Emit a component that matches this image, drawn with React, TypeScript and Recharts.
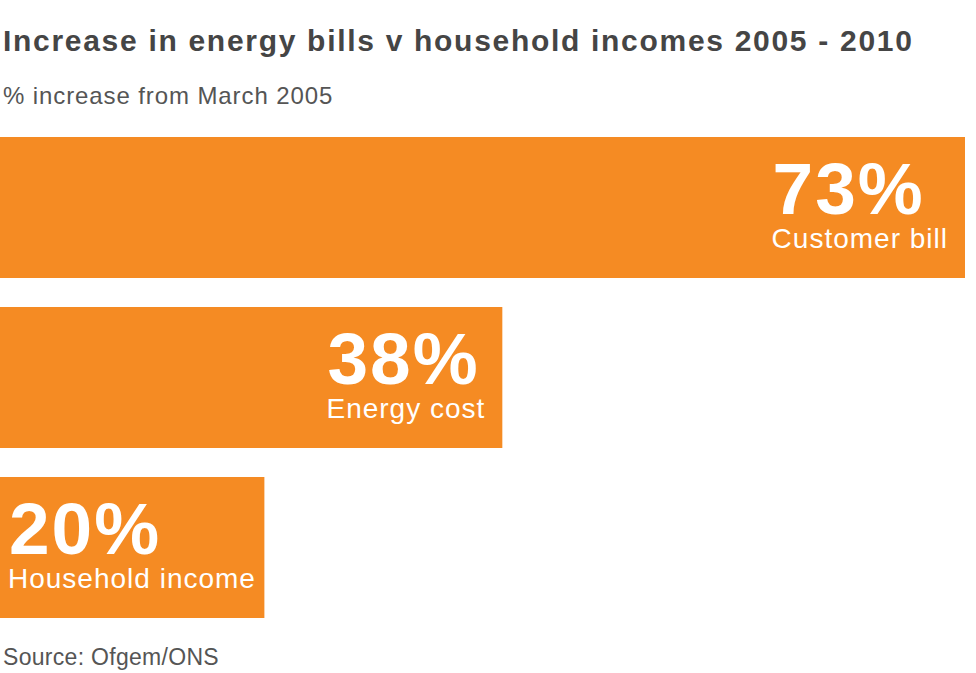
import React from "react";
import { BarChart, Bar, XAxis, YAxis } from "recharts";

const categories = ["Customer bill", "Energy cost", "Household income"];
const increases = [73, 38, 20];

const TITLE = "Increase in energy bills v household incomes 2005 - 2010";
const SUBTITLE = "% increase from March 2005";
const SOURCE = "Source: Ofgem/ONS";

const ORANGE = "#F58B23";
const FONT = "'Liberation Sans', Arial, Helvetica, sans-serif";

const data = categories.map((name, i) => ({ name, value: increases[i] }));

const BIG_SIZE = 73;
const BIG_SPACING = 2;
const SMALL_SIZE = 28;
const SMALL_SPACING = 1;

let ctx: CanvasRenderingContext2D | null = null;
function measure(text: string, font: string, spacing = 0): number {
  if (!ctx) {
    const c = document.createElement("canvas");
    ctx = c.getContext("2d");
  }
  if (!ctx) return text.length * 14;
  ctx.font = font;
  return ctx.measureText(text).width + spacing * text.length;
}

const BarShape = (props: any) => {
  const { x, y, width, height, payload } = props;
  const pct = `${payload.value}%`;
  const wBig = measure(pct, `bold ${BIG_SIZE}px ${FONT}`, BIG_SPACING);
  const wSmall = measure(payload.name, `${SMALL_SIZE}px ${FONT}`, SMALL_SPACING);
  const block = Math.max(wBig, wSmall);
  const tx = Math.max(x + 8, x + width - 17 - block);
  return (
    <g>
      <rect x={x} y={y} width={width} height={height} fill={ORANGE} />
      <text
        x={tx + 1}
        y={y + 77}
        fill="#fff"
        fontFamily={FONT}
        fontWeight="bold"
        fontSize={BIG_SIZE}
        letterSpacing={BIG_SPACING}
      >
        {pct}
      </text>
      <text
        x={tx}
        y={y + 111}
        fill="#fff"
        fontFamily={FONT}
        fontSize={SMALL_SIZE}
        letterSpacing={SMALL_SPACING}
      >
        {payload.name}
      </text>
    </g>
  );
};

export default function App() {
  return (
    <div
      style={{
        position: "absolute",
        left: 0,
        top: 0,
        width: 976,
        height: 673,
        background: "#fff",
        fontFamily: FONT,
        overflow: "hidden",
      }}
    >
      <div
        style={{
          position: "absolute",
          left: 3,
          top: 23,
          fontSize: 30,
          fontWeight: "bold",
          color: "#454545",
          whiteSpace: "nowrap",
          lineHeight: "36px",
          letterSpacing: 1.7,
        }}
      >
        {TITLE}
      </div>
      <div
        style={{
          position: "absolute",
          left: 3,
          top: 81,
          fontSize: 24,
          color: "#555",
          whiteSpace: "nowrap",
          lineHeight: "30px",
          letterSpacing: 0.9,
        }}
      >
        {SUBTITLE}
      </div>
      <div style={{ position: "absolute", left: 0, top: 0 }}>
        <BarChart
          width={976}
          height={673}
          data={data}
          layout="vertical"
          margin={{ top: 122, right: 11, bottom: 41, left: 0 }}
          barSize={141}
        >
          <XAxis type="number" domain={[0, 73]} hide />
          <YAxis type="category" dataKey="name" hide width={0} />
          <Bar dataKey="value" isAnimationActive={false} shape={BarShape} />
        </BarChart>
      </div>
      <div
        style={{
          position: "absolute",
          left: 3,
          top: 643,
          fontSize: 23,
          color: "#555",
          whiteSpace: "nowrap",
          lineHeight: "28px",
          letterSpacing: 0.3,
        }}
      >
        {SOURCE}
      </div>
    </div>
  );
}
